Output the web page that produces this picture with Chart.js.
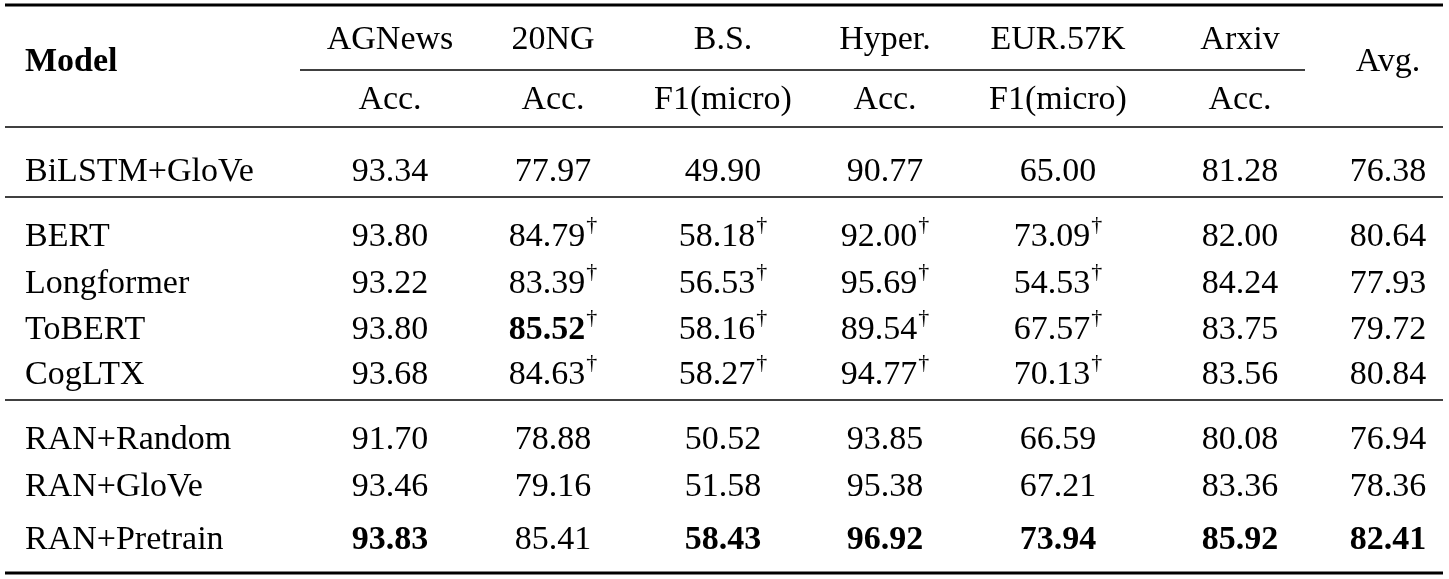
<!DOCTYPE html>
<html>
<head>
<meta charset="utf-8">
<script src="https://cdn.jsdelivr.net/npm/chart.js@4"></script>
<style>
  html, body { margin: 0; padding: 0; background: #fff; }
  #wrap { width: 1449px; height: 579px; }
</style>
</head>
<body>
<div id="wrap"><canvas id="tbl"></canvas></div>
<script>
// 데이터 /////////////////////////////////////////////
const datasetsTop = ["AGNews", "20NG", "B.S.", "Hyper.", "EUR.57K", "Arxiv"];
const metrics = ["Acc.", "Acc.", "F1(micro)", "Acc.", "F1(micro)", "Acc."];
const models = ["BiLSTM+GloVe", "BERT", "Longformer", "ToBERT", "CogLTX", "RAN+Random", "RAN+GloVe", "RAN+Pretrain"];
const values = [
  ["93.34", "77.97", "49.90", "90.77", "65.00", "81.28", "76.38"],
  ["93.80", "84.79", "58.18", "92.00", "73.09", "82.00", "80.64"],
  ["93.22", "83.39", "56.53", "95.69", "54.53", "84.24", "77.93"],
  ["93.80", "85.52", "58.16", "89.54", "67.57", "83.75", "79.72"],
  ["93.68", "84.63", "58.27", "94.77", "70.13", "83.56", "80.84"],
  ["91.70", "78.88", "50.52", "93.85", "66.59", "80.08", "76.94"],
  ["93.46", "79.16", "51.58", "95.38", "67.21", "83.36", "78.36"],
  ["93.83", "85.41", "58.43", "96.92", "73.94", "85.92", "82.41"]
];
// 굵게 표시할 셀 [row, col]
const boldCells = [[3, 1], [7, 0], [7, 2], [7, 3], [7, 4], [7, 5], [7, 6]];
// † 표시 셀 (rows 1-4, cols 1-4)
const daggerRows = [1, 2, 3, 4];
const daggerCols = [1, 2, 3, 4];

// 레이아웃 (픽셀 좌표계 스케일 값) /////////////////////
const colX = [390, 553, 723, 885, 1058, 1240, 1388];
const modelX = 25;
const rowY = [172, 237, 284, 330, 375, 440, 487, 540];
const head1Y = 40, head2Y = 100, modelY = 62;
const rules = [ // [y, width, x0, x1]
  [5, 3, 5, 1443], [70, 1.3, 300, 1305], [127, 1.6, 5, 1443],
  [197, 1.6, 5, 1443], [400, 1.6, 5, 1443], [573, 3, 5, 1443]
];

const FONT = '"Liberation Serif", "DejaVu Serif", serif';
const FS = 34;

const tablePlugin = {
  id: 'tablePlugin',
  afterDraw(chart) {
    const ctx = chart.ctx;
    const sx = chart.scales.x, sy = chart.scales.y;
    const X = v => sx.getPixelForValue(v);
    const Y = v => sy.getPixelForValue(v);
    ctx.save();
    ctx.fillStyle = '#000';
    ctx.strokeStyle = '#000';
    ctx.textBaseline = 'middle';

    // 가로줄
    rules.forEach(r => {
      ctx.lineWidth = r[1];
      ctx.beginPath();
      ctx.moveTo(X(r[2]), Y(r[0]));
      ctx.lineTo(X(r[3]), Y(r[0]));
      ctx.stroke();
    });

    // 헤더
    ctx.font = 'bold ' + FS + 'px ' + FONT;
    ctx.textAlign = 'left';
    ctx.fillText('Model', X(modelX), Y(modelY));
    ctx.font = FS + 'px ' + FONT;
    ctx.textAlign = 'center';
    datasetsTop.forEach((t, i) => ctx.fillText(t, X(colX[i]), Y(head1Y)));
    metrics.forEach((t, i) => ctx.fillText(t, X(colX[i]), Y(head2Y)));
    ctx.fillText('Avg.', X(colX[6]), Y(modelY));

    // 본문
    models.forEach((m, r) => {
      ctx.font = FS + 'px ' + FONT;
      ctx.textAlign = 'left';
      ctx.fillText(m, X(modelX), Y(rowY[r]));
      values[r].forEach((v, c) => {
        const bold = boldCells.some(b => b[0] === r && b[1] === c);
        const dag = daggerRows.includes(r) && daggerCols.includes(c);
        const f = (bold ? 'bold ' : '') + FS + 'px ' + FONT;
        ctx.font = f;
        const w = ctx.measureText(v).width;
        let dw = 0;
        if (dag) {
          ctx.font = '22px ' + FONT;
          dw = ctx.measureText('\u2020').width + 1;
        }
        const left = X(colX[c]) - (w + dw) / 2;
        ctx.font = f;
        ctx.fillText(v, left, Y(rowY[r]));
        if (dag) {
          ctx.font = '22px ' + FONT;
          ctx.fillText('\u2020', left + w + 1, Y(rowY[r]) - 12);
        }
      });
    });
    ctx.restore();
  }
};

new Chart(document.getElementById('tbl'), {
  type: 'scatter',
  data: { datasets: [{ data: [] }] },
  options: {
    responsive: true,
    maintainAspectRatio: false,
    animation: false,
    layout: { padding: 0 },
    plugins: { legend: { display: false }, tooltip: { enabled: false } },
    scales: {
      x: { type: 'linear', min: 0, max: 1449, display: false },
      y: { type: 'linear', min: 0, max: 579, reverse: true, display: false }
    }
  },
  plugins: [tablePlugin]
});
</script>
</body>
</html>
